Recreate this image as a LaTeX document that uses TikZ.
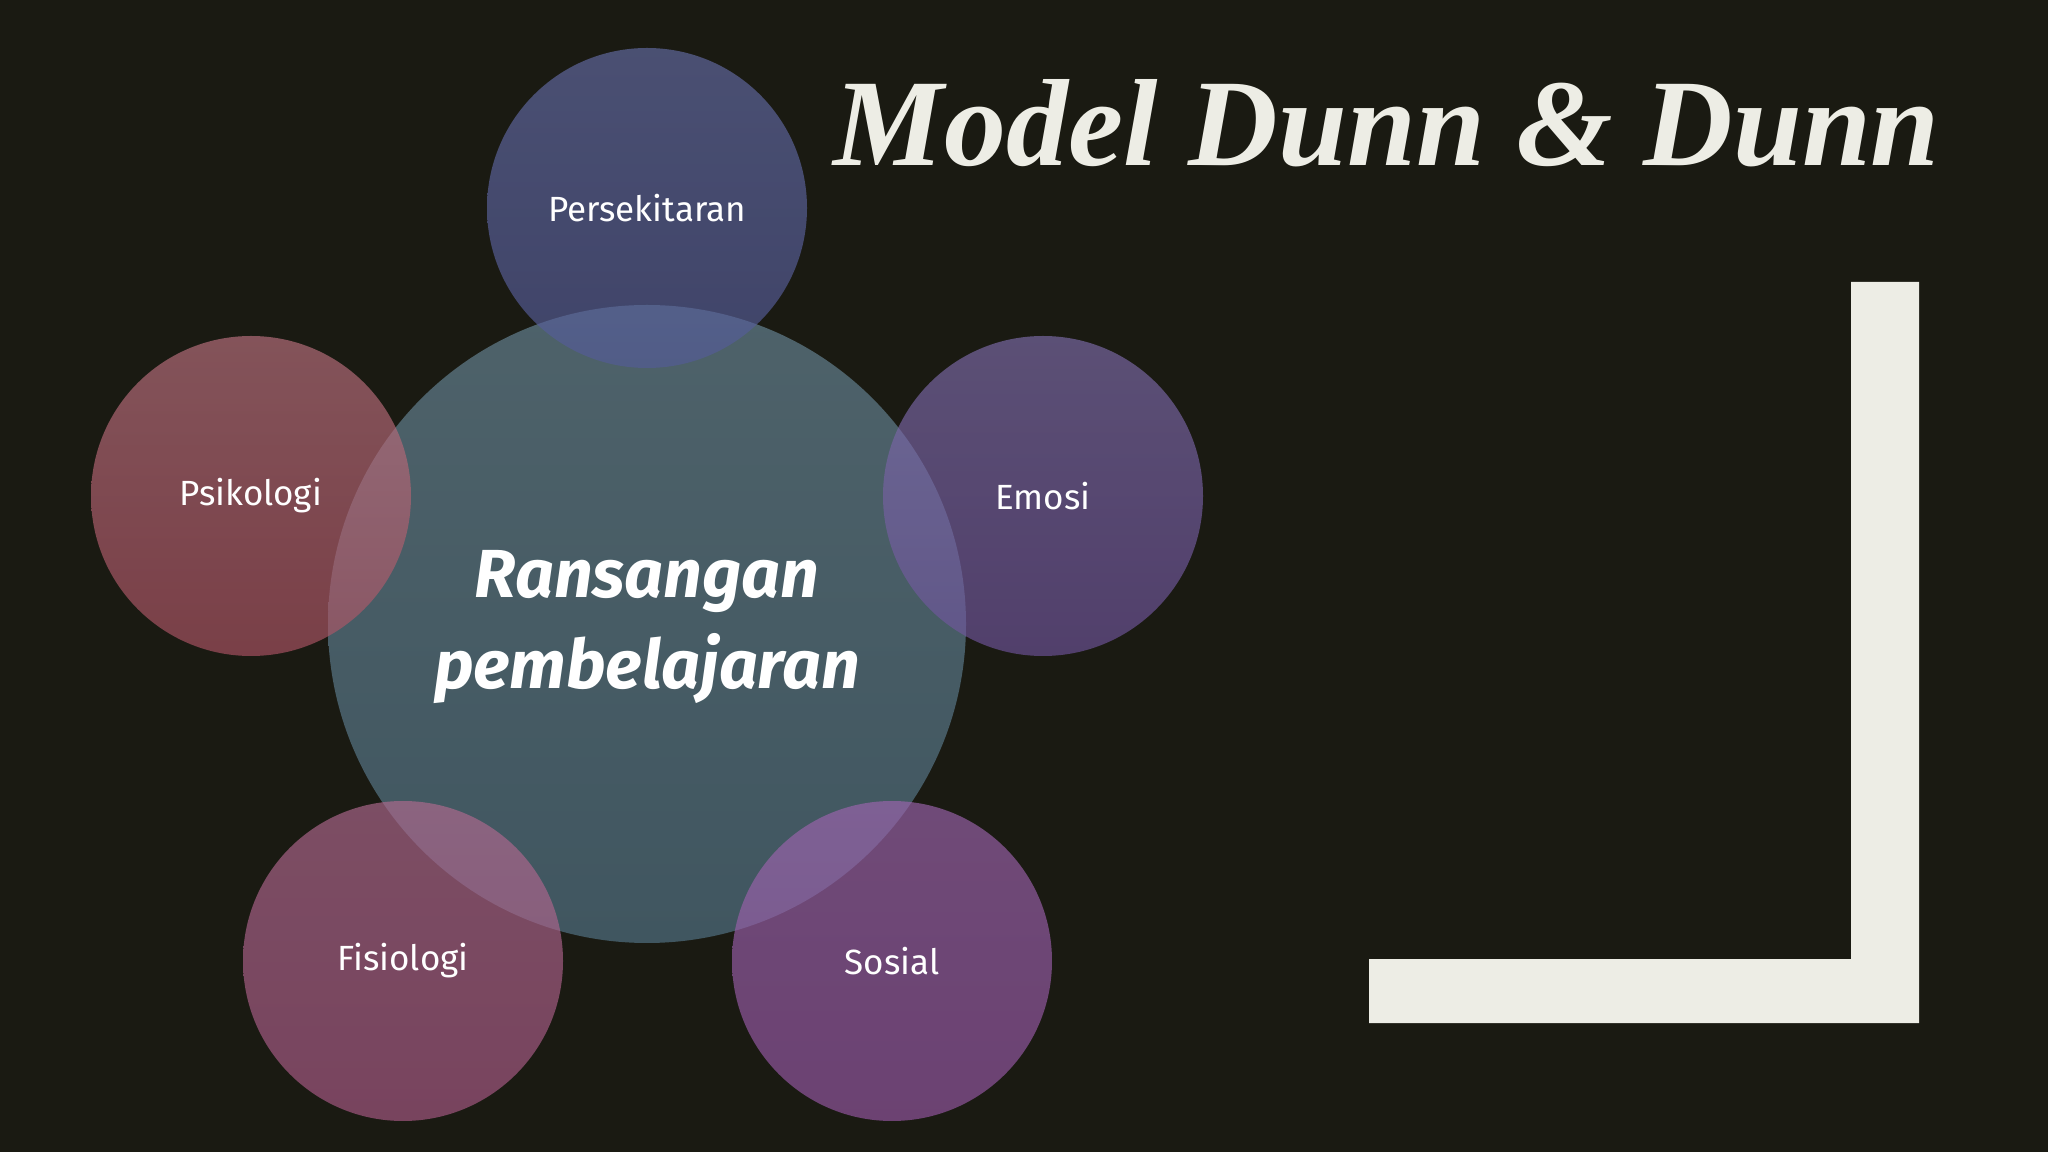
\documentclass[tikz,border=0pt]{standalone}
\usepackage{fontspec}
\setmainfont{Fira Sans}
\newfontfamily\brushfont{Fira Sans}
\newfontfamily\titlefont{Liberation Serif}
\usetikzlibrary{shapes.geometric}

\definecolor{slidebg}{RGB}{26,26,18}
\definecolor{cream}{RGB}{237,237,229}
\definecolor{hubtop}{RGB}{78,98,106}
\definecolor{hubbot}{RGB}{64,86,96}

\tikzset{
  hub/.style={circle,minimum size=638,inner sep=0pt,top color=hubtop,bottom color=hubbot,draw=none},
  petal/.style={circle,minimum size=320,inner sep=0pt,draw=none,fill opacity=0.65,text opacity=1,
    text=white,font=\fontsize{35}{42}\selectfont},
}

\begin{document}
\begin{tikzpicture}[x=1pt,y=1pt,line join=round]
\fill[slidebg] (0,0) rectangle (2048,1152);
\useasboundingbox (0,0) rectangle (2048,1152);
% centre and the five petals
\node[hub] (hub) at (647,528) {};
\node[petal,top color={rgb,255:red,101;green,109;blue,167},bottom color={rgb,255:red,84;green,91;blue,152}] (persekitaran) at (647,944) {Persekitaran};
\node[petal,top color={rgb,255:red,189;green,115;blue,129},bottom color={rgb,255:red,174;green,84;blue,101}] (psikologi) at (251,656) {Psikologi};
\node[petal,top color={rgb,255:red,127;green,109;blue,172},bottom color={rgb,255:red,112;green,84;blue,156}] (emosi) at (1043,656) {Emosi};
\node[petal,top color={rgb,255:red,178;green,106;blue,144},bottom color={rgb,255:red,171;green,91;blue,136}] (fisiologi) at (403,191) {Fisiologi};
\node[petal,top color={rgb,255:red,158;green,101;blue,175},bottom color={rgb,255:red,152;green,88;blue,167}] (sosial) at (892,191) {Sosial};
\node[text=white,align=center,font=\brushfont\bfseries\itshape\fontsize{68}{91}\selectfont] (hubtext) at (647,525) {Ransangan\\pembelajaran};
% title
\node[text=cream,anchor=base,font=\titlefont\bfseries\itshape\fontsize{124}{150}\selectfont] (title) at (1387,986) {Model Dunn \& Dunn};
% corner bracket
\fill[cream] (1851,870) -- (1919,870) -- (1919,129) -- (1369,129) -- (1369,193) -- (1851,193) -- cycle;
\end{tikzpicture}
\end{document}
